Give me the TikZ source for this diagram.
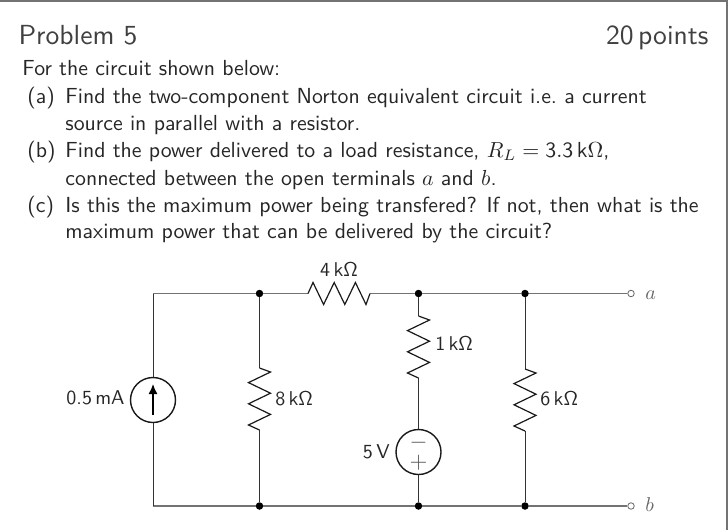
\documentclass[tikz,border=0pt]{standalone}
\usetikzlibrary{arrows.meta}
\renewcommand{\familydefault}{\sfdefault}
\newcommand{\kO}{\,\mathsf{k\Omega}}
\tikzset{
  txt/.style={inner sep=0pt,anchor=base west,font=\fontsize{10}{12}\selectfont,text=black!85,scale=2.18,transform shape},
  ttl/.style={inner sep=0pt,font=\fontsize{10}{12}\selectfont,text=black!75,scale=2.76,transform shape},
  lab/.style={inner sep=0pt,font=\fontsize{10}{12}\selectfont,text=black!85,scale=2,transform shape},
  wire/.style={draw=black!80,line width=.9pt},
  hwire/.style={draw=black!55,line width=1.5pt},
  res/.style={draw=black!90,line width=1.2pt,line join=miter},
  src/.style={circle,draw=black!90,line width=1.4pt,minimum size=45pt,inner sep=0pt},
  dot/.style={circle,fill=black,minimum size=7.5pt,inner sep=0pt},
  term/.style={circle,draw=black!60,fill=white,line width=.8pt,minimum size=6.5pt,inner sep=0pt},
}
\begin{document}
\begin{tikzpicture}[x=1pt,y=-1pt]
\useasboundingbox (0,0) rectangle (728,530);
\fill[black!55] (0,0) rectangle (728,2);
\fill[black!55] (726,0) rectangle (728,530);
% text
\node[ttl,anchor=base west] (title) at (18,44.5) {Problem 5};
\node[ttl,anchor=base east] (pts) at (709,44.5) {20\,points};
\node[txt] (l0) at (22,75) {For the circuit shown below:};
\node[txt] (ma) at (27,103) {(a)};
\node[txt] (l1) at (65,103) {Find the two-component Norton equivalent circuit i.e.\ a current};
\node[txt] (l2) at (65,130) {source in parallel with a resistor.};
\node[txt] (mb) at (27,157) {(b)};
\node[txt] (l3) at (65,157) {Find the power delivered to a load resistance, $R_L = \mathsf{3.3\,k}\Omega$,};
\node[txt] (l4) at (65,185) {connected between the open terminals $a$ and $b$.};
\node[txt] (mc) at (27,212) {(c)};
\node[txt] (l5) at (65,212) {Is this the maximum power being transfered? If not, then what is the};
\node[txt] (l6) at (65,238) {maximum power that can be delivered by the circuit?};
% junctions
\coordinate (tl) at (153,293.5);
\coordinate (bl) at (153,506);
\node[dot] (t1) at (259.5,293.5) {};
\node[dot] (t2) at (418.5,293.5) {};
\node[dot] (t3) at (525,293.5) {};
\node[dot] (b1) at (259.5,506) {};
\node[dot] (b2) at (418.5,506) {};
\node[dot] (b3) at (525,506) {};
\node[term] (ta) at (631,293.5) {};
\node[term] (tb) at (631,506) {};
% sources
\node[src] (is) at (153,400) {};
\node[src] (vs) at (418.5,452) {};
\draw[black,line width=1.4pt,-{Latex[length=10pt,width=9pt]}] (153,415) -- (153,384);
\node[lab,text=black!65,scale=1.15] (vm) at (418.5,443) {$-$};
\node[lab,text=black!65,scale=1.15] (vp) at (418.5,463) {$+$};
% resistor ends
\coordinate (r4a) at (308,293.5);
\coordinate (r4b) at (370,293.5);
\coordinate (r8a) at (259.5,368);
\coordinate (r8b) at (259.5,430);
\coordinate (r1a) at (418.5,316);
\coordinate (r1b) at (418.5,378);
\coordinate (r6a) at (525,369);
\coordinate (r6b) at (525,431);
% wires
\draw[hwire] (tl) -- (t1) -- (r4a);
\draw[hwire] (r4b) -- (t2) -- (t3) -- (ta);
\draw[hwire] (bl) -- (b1) -- (b2) -- (b3) -- (tb);
\draw[wire] (is.north) -- (tl);
\draw[wire] (is.south) -- (bl);
\draw[wire] (t1) -- (r8a);
\draw[wire] (r8b) -- (b1);
\draw[wire] (t2) -- (r1a);
\draw[wire] (r1b) -- (vs.north);
\draw[wire] (vs.south) -- (b2);
\draw[wire] (t3) -- (r6a);
\draw[wire] (r6b) -- (b3);
% resistors
\draw[res] (r4a) -- ++(5,-11) -- ++(10.6,22) -- ++(10.6,-22) -- ++(10.6,22) -- ++(10.6,-22) -- ++(10.6,22) -- (r4b);
\foreach \a/\b in {r8a/r8b,r1a/r1b,r6a/r6b}{
  \draw[res] (\a) -- ++(11,4) -- ++(-22,10.6) -- ++(22,10.6) -- ++(-22,10.6) -- ++(22,10.6) -- ++(-22,10.6) -- (\b);
}
% labels
\node[lab,anchor=base] (l4k) at (339,276.5) {4$\kO$};
\node[lab,anchor=base west] (l8k) at (275,405) {8$\kO$};
\node[lab,anchor=base west] (l1k) at (435,350) {1$\kO$};
\node[lab,anchor=base west] (l6k) at (540,405) {6$\kO$};
\node[lab,anchor=base east] (lis) at (125,404) {0.5\,mA};
\node[lab,anchor=base east] (lvs) at (390,458) {5\,V};
\node[lab,anchor=base west,text=black!60] (la) at (645,299) {$a$};
\node[lab,anchor=base west,text=black!60] (lb) at (645,511) {$b$};
\end{tikzpicture}
\end{document}
